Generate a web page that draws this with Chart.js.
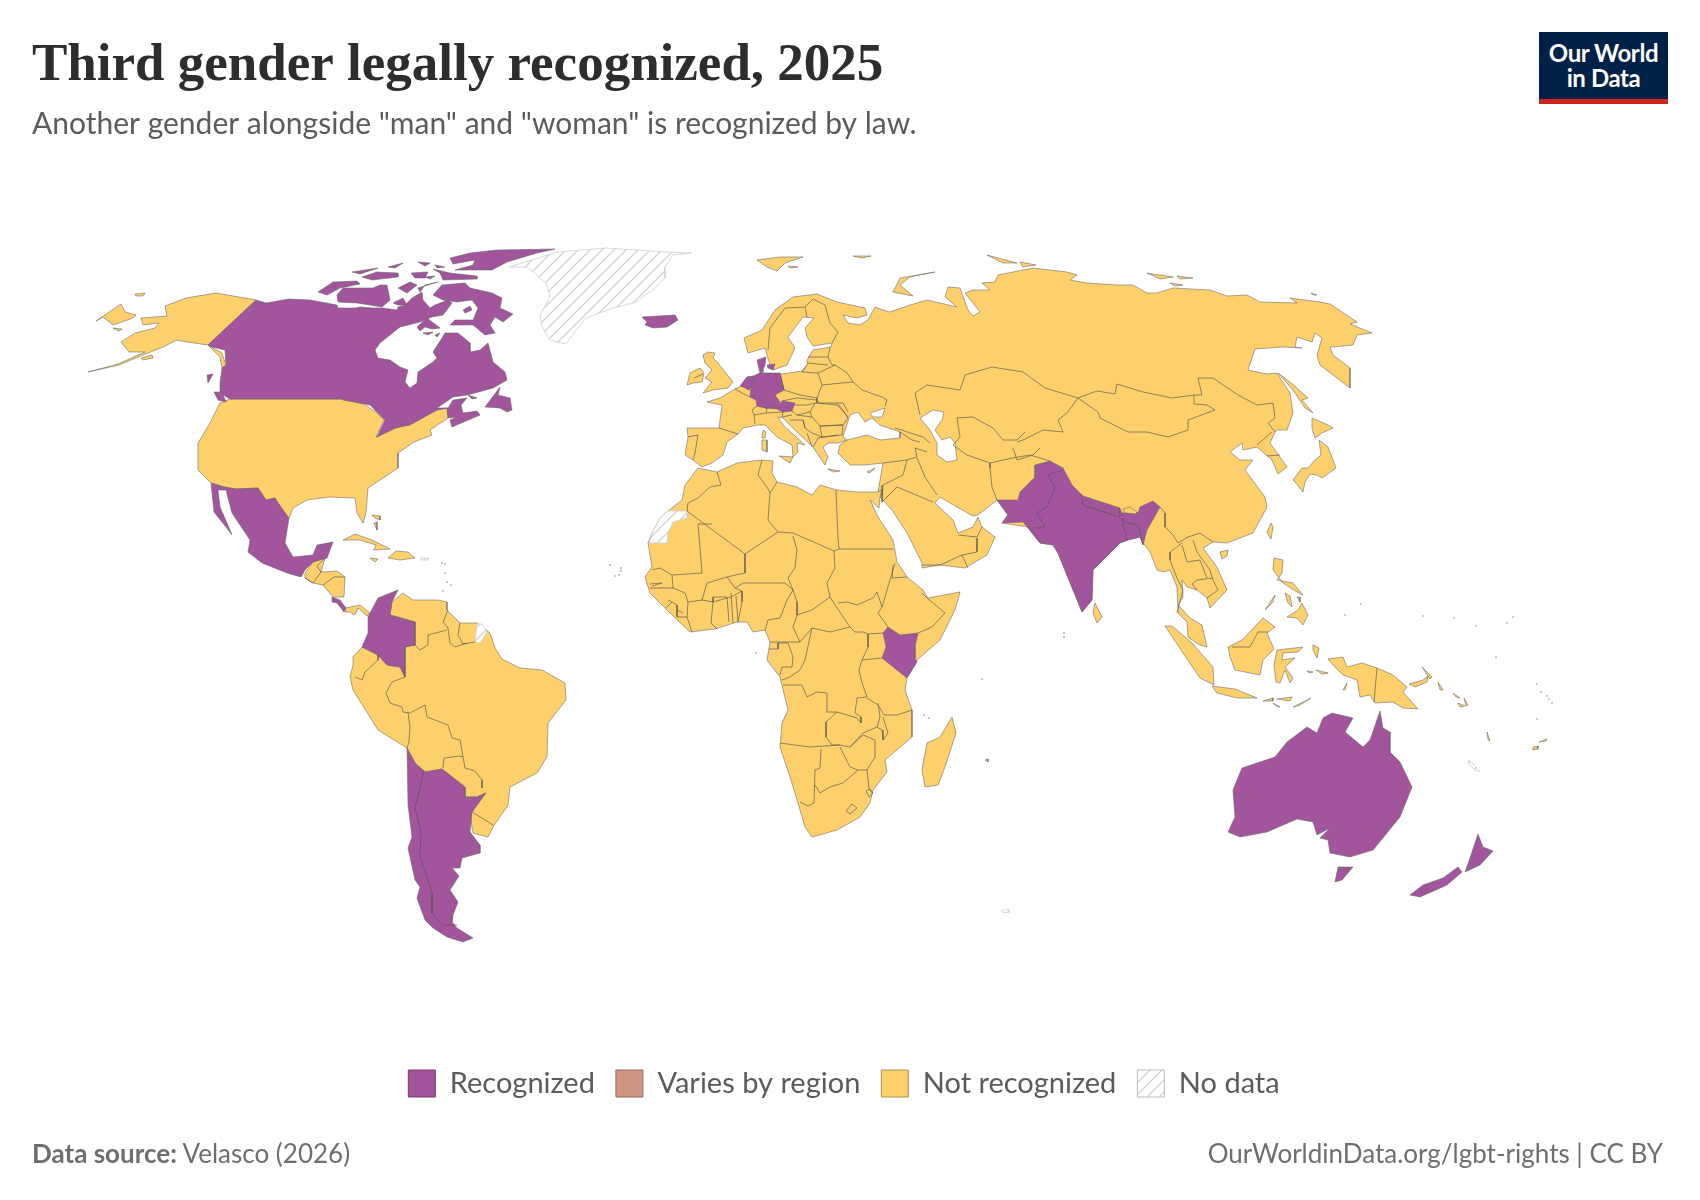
<!DOCTYPE html>
<html>
<head>
<meta charset="utf-8">
<title>Third gender legally recognized, 2025</title>
<script src="https://cdn.jsdelivr.net/npm/chart.js@4"></script>
<style>
  body { margin: 0; background: #fff; font-family: Lato, sans-serif; }
  #wrap { position: relative; width: 1700px; height: 1200px; }
  #logo { position: absolute; left: 1539px; top: 32px; width: 129px; height: 72px; background: #002147; border-bottom: 5px solid #ce261e; box-sizing: border-box; color: #fff; font-weight: 700; font-size: 24px; line-height: 25px; text-align: center; padding-top: 8px; letter-spacing: -0.4px; }
  .foot { position: absolute; top: 1137px; font-size: 26px; color: #6e6e6e; line-height: 32px; white-space: nowrap; }
  #source { left: 32px; }
  #source b { font-weight: 700; }
  #url { right: 37px; }
</style>
</head>
<body>
<div id="wrap">
  <canvas id="map" width="1700" height="1200"></canvas>
  <div id="logo">Our World<br>in Data</div>
  <div class="foot" id="source"><b>Data source:</b> Velasco (2026)</div>
  <div class="foot" id="url">OurWorldinData.org/lgbt-rights | CC BY</div>
</div>
<script>
// legend categories and colours
var categories = ['Recognized', 'Varies by region', 'Not recognized', 'No data'];
var purple = '#a2559c', tan = '#cf9683', yellow = '#fed06b';

// outlines, x/y in map units (1700 x 1200 sheet)
var eurasia = [[702,467],[693,460],[685,455],[688,437],[687,428],[719,428],[722,405],[707,402],[720,398],[735,389],[740,387],[747,377],[754,376],[760,373],[782,374],[802,371],[807,365],[807,360],[813,350],[831,347],[832,343],[813,346],[807,337],[805,328],[814,318],[803,317],[797,325],[788,337],[795,348],[787,365],[773,370],[770,365],[765,348],[748,353],[744,338],[762,330],[775,310],[793,297],[817,294],[837,302],[865,308],[867,315],[857,318],[843,315],[848,323],[860,325],[868,320],[875,307],[883,310],[890,312],[910,305],[927,300],[957,307],[945,297],[948,287],[960,288],[968,310],[973,316],[980,312],[965,293],[973,290],[990,290],[982,283],[995,282],[998,275],[1033,268],[1067,272],[1077,275],[1070,280],[1087,283],[1117,285],[1133,285],[1147,293],[1157,293],[1173,288],[1210,290],[1227,296],[1247,295],[1260,302],[1297,303],[1290,298],[1320,302],[1330,304],[1357,322],[1350,324],[1372,333],[1357,335],[1353,345],[1333,347],[1330,347],[1333,355],[1350,368],[1350,388],[1320,365],[1317,355],[1322,338],[1315,333],[1312,342],[1297,337],[1295,347],[1302,348],[1283,347],[1255,349],[1248,370],[1267,374],[1277,373],[1290,393],[1293,413],[1287,430],[1277,430],[1275,432],[1270,443],[1287,467],[1278,474],[1272,460],[1257,447],[1243,450],[1242,443],[1230,452],[1240,460],[1253,460],[1245,470],[1265,497],[1267,507],[1253,533],[1227,543],[1213,542],[1203,548],[1217,567],[1227,590],[1210,608],[1207,598],[1197,590],[1187,587],[1182,580],[1183,597],[1178,605],[1190,618],[1202,625],[1207,647],[1200,645],[1188,637],[1187,622],[1178,613],[1177,587],[1170,570],[1163,572],[1157,570],[1150,552],[1143,543],[1140,537],[1128,540],[1120,543],[1093,570],[1092,600],[1082,612],[1058,553],[1053,545],[1040,543],[1028,527],[1002,523],[1008,515],[997,500],[978,515],[973,516],[957,507],[940,497],[935,503],[953,520],[958,533],[973,527],[978,517],[982,527],[995,537],[987,555],[965,568],[940,565],[922,568],[922,563],[907,533],[892,510],[880,497],[882,490],[878,492],[883,463],[865,465],[850,465],[838,453],[840,445],[847,440],[838,443],[828,443],[823,447],[828,457],[825,465],[813,447],[795,430],[783,418],[778,417],[783,425],[805,445],[797,443],[798,452],[793,457],[792,445],[777,437],[765,425],[758,425],[743,428],[738,434],[727,442],[723,455],[712,463]];
var africa = [[698,468],[717,472],[737,463],[762,460],[773,461],[772,473],[777,482],[797,487],[812,495],[820,485],[837,490],[857,492],[877,492],[882,490],[880,497],[879,508],[870,500],[878,517],[893,540],[897,562],[907,577],[923,590],[928,598],[960,592],[955,610],[940,640],[917,660],[907,678],[905,690],[912,710],[912,737],[885,760],[887,772],[873,790],[870,803],[860,817],[837,830],[812,837],[805,827],[798,803],[790,777],[780,747],[782,723],[788,710],[780,677],[767,660],[770,642],[765,630],[753,632],[747,622],[737,622],[715,629],[690,632],[675,618],[667,610],[650,593],[645,577],[652,567],[648,543],[652,533],[660,518],[668,511],[682,500],[685,485]];
var madagascar = [[952,717],[956,733],[945,767],[938,785],[925,787],[922,770],[927,743],[940,737]];
var alaska = [[256,300],[216,293],[186,298],[165,306],[167,316],[141,318],[143,325],[159,323],[155,328],[135,333],[121,342],[129,352],[145,352],[118,364],[88,372],[119,365],[143,355],[163,347],[177,340],[187,342],[208,345],[222,353],[226,365],[222,368],[220,357],[208,345]];
var chukotkaTip = [[96,321],[121,304],[125,312],[136,315],[133,318],[113,325],[103,317]];
var stLawrence = [[135,294],[145,293],[143,296],[136,296]];
var nunivak = [[113,328],[122,329],[119,331]];
var kodiak = [[141,358],[152,355],[153,358],[143,360]];
var usa = [[230,399],[343,399],[364,404],[376,412],[384,420],[376,437],[396,428],[418,420],[437,410],[447,408],[448,418],[430,430],[432,435],[414,442],[398,453],[398,468],[368,488],[366,513],[363,523],[357,513],[355,498],[329,497],[307,500],[293,508],[289,518],[279,510],[275,498],[266,500],[258,488],[236,489],[224,487],[211,483],[198,470],[198,443],[210,423],[220,403]];
var centralAmerica = [[305,573],[313,562],[325,558],[321,572],[337,571],[345,577],[344,597],[333,597],[323,585],[313,583],[305,578]];
var panama = [[345,608],[360,605],[370,613],[367,616],[358,608],[355,615],[350,612],[345,612]];
var southAmerica = [[392,602],[403,593],[413,600],[438,600],[447,602],[447,610],[460,623],[477,623],[490,633],[495,648],[502,659],[520,668],[542,670],[565,683],[566,700],[548,723],[547,757],[537,773],[510,787],[508,805],[493,827],[488,837],[473,833],[470,815],[472,812],[485,793],[477,797],[465,797],[465,787],[442,769],[425,772],[415,763],[407,748],[378,730],[353,690],[350,677],[353,665],[353,657],[362,647],[378,655],[387,665],[400,667],[405,677],[405,647],[415,645],[415,622],[390,615]];
var cuba = [[343,540],[355,534],[372,540],[390,549],[374,550],[376,545],[360,540]];
var hispaniola = [[388,558],[396,551],[408,552],[415,558],[400,560]];
var jamaica = [[370,558],[378,559],[375,562]];
var bahamas1 = [[372,515],[380,516],[380,520],[375,518]];
var bahamas2 = [[374,523],[377,522],[377,530]];
var uk = [[703,355],[708,352],[715,353],[713,358],[718,363],[733,382],[728,388],[713,390],[703,393],[712,382],[705,378],[712,370],[705,363]];
var ireland = [[687,385],[690,373],[700,368],[704,373],[702,382],[693,383]];
var sicily = [[779,456],[793,457],[790,463]];
var sardinia = [[762,440],[767,440],[767,452],[762,450]];
var corsica = [[763,430],[766,432],[765,438],[762,438]];
var crete = [[828,469],[840,471],[833,472]];
var cyprus = [[867,472],[875,468],[870,473]];
var svalbard = [[757,260],[780,257],[803,257],[785,263],[777,271],[767,267]];
var nordaustland = [[788,266],[798,267],[790,268]];
var franzJosef = [[853,256],[871,256],[862,258]];
var novayaZemlya = [[935,272],[900,278],[893,292],[913,296],[900,285],[910,277]];
var severnaya1 = [[987,255],[1017,263],[1003,263]];
var severnaya2 = [[1020,262],[1036,265],[1023,267]];
var newSiberian1 = [[1147,273],[1173,277],[1160,279]];
var newSiberian2 = [[1177,276],[1193,278],[1180,279]];
var newSiberian3 = [[1170,283],[1183,285],[1175,286]];
var wrangel = [[1311,293],[1317,295],[1313,295]];
var sakhalin = [[1278,373],[1290,382],[1308,398],[1302,400],[1313,413],[1305,408],[1293,390]];
var hokkaido = [[1312,418],[1328,425],[1333,428],[1322,433],[1315,438],[1312,428]];
var honshu = [[1319,440],[1328,447],[1336,468],[1322,478],[1317,475],[1310,474],[1305,482],[1303,492],[1295,482],[1293,480],[1302,468],[1308,468],[1315,460],[1321,455]];
var taiwan = [[1271,523],[1273,527],[1271,539],[1267,532]];
var hainan = [[1220,552],[1228,550],[1227,556],[1222,559]];
var sriLanka = [[1095,603],[1102,617],[1097,623],[1093,613]];
var sumatra = [[1165,626],[1172,626],[1192,643],[1213,667],[1214,685],[1200,678],[1183,653]];
var java = [[1212,686],[1235,689],[1257,698],[1237,698],[1217,693]];
var lesserSunda1 = [[1263,701],[1273,698],[1273,701]];
var lesserSunda2 = [[1277,699],[1292,697],[1290,701]];
var sumba = [[1273,703],[1280,707],[1276,706]];
var timor = [[1293,707],[1311,698],[1300,705]];
var borneo = [[1228,647],[1242,640],[1263,618],[1275,627],[1267,633],[1274,649],[1263,660],[1260,675],[1235,670],[1230,657]];
var sulawesi = [[1277,650],[1303,647],[1298,652],[1283,653],[1282,660],[1295,658],[1285,667],[1293,678],[1290,683],[1285,670],[1280,683],[1276,682],[1274,665]];
var halmahera = [[1313,645],[1319,648],[1317,658],[1313,650]];
var buru = [[1307,671],[1313,672],[1309,673]];
var seram = [[1316,670],[1328,673],[1322,674]];
var yamdena = [[1343,690],[1347,683],[1345,690]];
var newGuinea = [[1328,659],[1343,657],[1347,667],[1362,663],[1377,668],[1393,675],[1407,687],[1403,692],[1418,709],[1403,708],[1393,702],[1375,703],[1370,695],[1360,697],[1357,680],[1343,675],[1335,667]];
var newBritain = [[1409,684],[1423,680],[1428,676],[1427,682],[1415,687]];
var newIreland = [[1422,667],[1432,677],[1430,679]];
var solomon1 = [[1438,682],[1443,690],[1440,690]];
var solomon2 = [[1453,693],[1460,698],[1456,697]];
var solomon3 = [[1464,698],[1468,705],[1466,706]];
var solomon4 = [[1458,703],[1465,706],[1460,707]];
var vanuatu = [[1487,732],[1490,741],[1488,740]];
var fiji1 = [[1533,747],[1538,746],[1538,749],[1533,750]];
var fiji2 = [[1539,742],[1547,739],[1546,741]];
var mauritius = [[985,760],[988,759],[988,762]];
var luzon = [[1274,558],[1283,560],[1282,573],[1277,580],[1293,583],[1303,595],[1297,592],[1283,583],[1273,570]];
var palawan = [[1265,610],[1275,595],[1273,602]];
var mindanao = [[1287,617],[1298,610],[1302,603],[1308,615],[1303,625],[1297,618]];
var visayas = [[1285,593],[1290,596],[1292,607],[1288,603]];
var samar = [[1297,597],[1300,597],[1300,602]];

var canada = [[256,300],[266,303],[289,299],[310,300],[337,305],[338,308],[355,308],[360,307],[373,308],[383,308],[397,310],[398,307],[405,305],[412,298],[422,292],[423,300],[430,308],[435,305],[448,300],[452,303],[443,315],[432,317],[420,322],[400,327],[380,343],[375,350],[378,358],[390,360],[400,367],[408,370],[405,382],[410,388],[417,383],[418,372],[433,362],[437,358],[433,352],[442,338],[445,333],[458,333],[470,343],[470,352],[480,350],[488,343],[493,362],[505,372],[507,380],[493,388],[475,393],[467,395],[453,397],[437,408],[448,408],[453,400],[467,398],[461,405],[463,413],[477,411],[480,415],[452,427],[450,420],[457,417],[448,418],[447,408],[437,410],[428,415],[410,425],[395,428],[377,437],[385,420],[370,405],[343,400],[343,399],[230,399],[220,393],[220,383],[222,368],[226,365],[225,350],[212,347],[208,345]];
var anticosti = [[468,395],[477,398],[472,399]];
var newfoundland = [[485,407],[500,387],[498,395],[510,398],[512,410],[507,412],[500,408]];
var vancouverIs = [[214,392],[222,392],[226,402],[218,400]];
var haidaGwaii = [[207,375],[213,374],[208,383]];
var baffin = [[433,295],[442,285],[465,283],[470,288],[492,293],[502,298],[500,308],[513,314],[503,322],[495,317],[490,325],[495,333],[485,335],[473,325],[450,325],[455,320],[473,320],[478,308],[472,300],[457,302],[443,300]];
var princeCharles = [[463,310],[470,306],[472,310],[465,313]];
var banks = [[318,292],[333,282],[357,281],[360,284],[340,288],[327,295]];
var victoriaIs = [[337,295],[343,288],[373,288],[380,285],[387,285],[390,300],[382,307],[357,303],[338,302]];
var kingWilliam = [[393,303],[403,298],[407,305],[398,305]];
var princeOfWales = [[398,288],[410,282],[417,285],[407,293]];
var somerset = [[418,288],[438,282],[425,285],[420,292]];
var southampton = [[417,327],[427,318],[440,328],[432,329],[425,327],[420,331]];
var coats = [[423,333],[433,332],[428,335]];
var mansel = [[435,335],[440,333],[437,337]];
var ellesmere = [[450,258],[470,253],[497,250],[555,249],[537,253],[507,262],[492,270],[455,270],[473,265],[475,260],[453,264]];
var devon = [[433,269],[450,273],[477,276],[477,279],[443,280],[440,273]];
var melville = [[362,277],[377,272],[398,273],[398,277],[372,280]];
var princePatrick = [[352,272],[378,268],[360,274]];
var amundRingnes = [[388,267],[403,263],[395,268]];
var axelIslet = [[418,262],[430,263],[425,266]];
var cornwallis = [[435,265],[445,267],[437,268]];
var bathurst = [[411,273],[428,272],[425,278],[415,278]];
var northKent = [[425,277],[435,276],[430,279]];
var iceland = [[642,317],[675,315],[678,320],[667,327],[653,328],[645,325],[647,322]];
var mexico = [[211,483],[224,487],[236,489],[258,488],[266,500],[275,498],[281,507],[289,518],[285,543],[293,557],[313,555],[317,545],[333,542],[327,558],[313,562],[305,570],[301,577],[287,573],[262,563],[248,552],[250,540],[232,513],[226,490],[218,490],[220,507],[230,530],[232,535],[226,527],[214,512]];
var costaRica = [[332,597],[340,600],[346,608],[344,612],[337,603],[332,602]];
var colombia = [[368,617],[378,598],[398,590],[392,602],[390,615],[415,622],[415,645],[405,647],[405,677],[400,667],[387,665],[378,655],[362,647],[368,633]];
var southernCone = [[407,748],[415,763],[425,772],[442,769],[465,787],[465,797],[477,797],[486,793],[472,812],[470,832],[480,845],[480,853],[462,858],[460,868],[452,868],[459,876],[450,890],[458,902],[453,915],[452,922],[457,928],[473,938],[463,942],[447,937],[433,928],[425,920],[417,898],[420,887],[415,880],[408,848],[412,837],[408,805]];
var germany = [[754,376],[760,373],[780,373],[784,390],[775,395],[780,402],[778,406],[765,408],[757,406],[756,400],[750,397],[751,387]];
var netherlands = [[740,386],[747,377],[754,376],[751,387],[749,390],[743,387]];
var denmark = [[760,373],[757,360],[766,357],[765,365],[763,370],[763,372]];
var zealand = [[767,365],[775,364],[773,370],[768,368]];
var austria = [[765,408],[778,406],[782,401],[795,403],[792,411],[783,412],[777,409]];
var southAsia = [[997,500],[1008,515],[1002,523],[1023,522],[1040,543],[1053,545],[1058,553],[1082,612],[1092,600],[1093,570],[1120,543],[1128,540],[1140,537],[1143,545],[1147,530],[1160,507],[1153,501],[1140,507],[1138,513],[1122,513],[1120,508],[1083,496],[1072,485],[1063,468],[1050,461],[1035,465],[1035,477],[1020,492],[1018,500]];
var kenya = [[883,633],[888,627],[900,635],[918,633],[915,647],[915,658],[917,662],[907,678],[882,658],[886,647]];
var australia = [[1332,713],[1353,718],[1345,732],[1363,747],[1370,740],[1380,711],[1383,728],[1390,732],[1390,752],[1400,762],[1412,787],[1400,817],[1373,850],[1350,857],[1330,853],[1328,840],[1320,838],[1330,828],[1317,835],[1313,822],[1297,819],[1267,832],[1240,837],[1228,832],[1235,817],[1233,790],[1242,768],[1275,757],[1287,742],[1307,727],[1317,733],[1323,718]];
var tasmania = [[1338,867],[1353,867],[1342,880],[1335,882]];
var nzNorth = [[1478,834],[1483,847],[1493,851],[1480,865],[1465,872],[1470,858]];
var nzSouth = [[1458,867],[1462,872],[1447,885],[1420,897],[1410,895],[1423,885],[1443,878]];
var bhutan = [[1123,509],[1130,507],[1137,512],[1137,514],[1125,513]];

var greenland = [[509,267],[558,252],[606,248],[665,252],[692,253],[673,255],[665,267],[665,278],[653,290],[645,295],[637,302],[613,308],[586,318],[574,333],[566,344],[550,340],[542,327],[540,315],[550,297],[546,283],[527,267]];
var westernSahara = [[649,543],[667,543],[668,533],[673,522],[687,518],[687,511],[668,511],[660,518],[652,533]];
var frenchGuiana = [[477,624],[482,624],[487,632],[480,643],[475,642]];
var newCaledonia = [[1469,760],[1480,771],[1476,771],[1468,763]];
var puertoRico = [[421,558],[428,558],[428,560],[421,560]];
var kerguelen = [[1001,911],[1008,909],[1010,912],[1003,913]];

var blackSea = [[843,437],[850,415],[858,412],[865,422],[872,418],[880,425],[900,432],[900,438],[880,440],[867,435],[847,440]];
var azov = [[870,413],[885,408],[882,417],[873,417]];
var caspian = [[920,418],[933,410],[944,412],[942,420],[935,430],[942,440],[950,437],[955,443],[957,460],[947,462],[937,455],[937,443],[930,430]];

var notRecognized = [eurasia, africa, madagascar, alaska, chukotkaTip, stLawrence, nunivak, kodiak, usa, centralAmerica, panama, southAmerica, cuba, hispaniola, jamaica, bahamas1, bahamas2, uk, ireland, sicily, sardinia, corsica, crete, cyprus, svalbard, nordaustland, franzJosef, novayaZemlya, severnaya1, severnaya2, newSiberian1, newSiberian2, newSiberian3, wrangel, sakhalin, hokkaido, honshu, taiwan, hainan, sriLanka, sumatra, java, lesserSunda1, lesserSunda2, sumba, timor, borneo, sulawesi, halmahera, buru, seram, yamdena, newGuinea, newBritain, newIreland, solomon1, solomon2, solomon3, solomon4, vanuatu, fiji1, fiji2, mauritius, luzon, palawan, mindanao, visayas, samar];
var seas = [blackSea, azov, caspian];
var recognized = [canada, anticosti, newfoundland, vancouverIs, haidaGwaii, baffin, princeCharles, banks, victoriaIs, kingWilliam, princeOfWales, somerset, southampton, coats, mansel, ellesmere, devon, melville, princePatrick, amundRingnes, axelIslet, cornwallis, bathurst, northKent, iceland, mexico, costaRica, colombia, southernCone, germany, netherlands, denmark, zealand, austria, southAsia, kenya, australia, tasmania, nzNorth, nzSouth];
var noData = [greenland, westernSahara, frenchGuiana, newCaledonia, puertoRico, kerguelen];

// country borders inside the land masses
var borders = [
  // Americas
  [[424,770],[420,787],[415,807],[421,833],[420,857],[432,893],[432,913],[442,925],[457,925]],
  [[378,655],[378,660],[365,672],[362,680],[355,677]],
  [[405,677],[392,682],[386,693],[390,703],[402,707],[403,712],[410,713],[425,705],[427,717],[448,725],[452,738],[460,740],[463,757],[465,768],[475,771],[482,780],[482,788]],
  [[408,713],[410,727],[409,742],[407,748]],
  [[443,768],[444,758],[460,756],[463,757]],
  [[472,812],[493,825]],
  [[448,610],[443,622],[448,628],[450,643],[455,647],[467,643]],
  [[415,645],[420,650],[428,645],[428,635],[447,630]],
  [[460,623],[458,635],[463,644],[475,642]],
  [[305,578],[313,583],[321,572]],
  [[321,572],[317,566],[325,558]],
  [[323,585],[334,577],[345,577]],
  // Europe
  [[719,428],[738,434]],
  [[688,437],[698,435],[695,453],[693,460]],
  [[735,389],[742,393],[750,397]],
  [[757,406],[752,410],[754,415],[755,424]],
  [[754,415],[766,413],[767,408]],
  [[766,413],[783,412],[782,417]],
  [[782,417],[792,415]],
  [[780,373],[784,390],[800,395],[817,398],[822,385],[818,373],[802,372]],
  [[818,373],[835,365],[847,373],[853,382],[842,383],[822,385]],
  [[853,382],[862,390],[882,397],[887,400],[885,406]],
  [[817,398],[817,403],[837,405],[848,417]],
  [[782,401],[797,398],[817,400]],
  [[795,405],[807,405],[815,403]],
  [[792,411],[797,415],[810,412],[815,403]],
  [[815,403],[837,403],[843,410],[848,418],[843,425],[820,426],[812,417],[810,412]],
  [[837,403],[843,403],[848,412]],
  [[820,426],[843,425],[842,435],[822,437],[820,426]],
  [[797,415],[812,417]],
  [[790,420],[803,420],[805,428]],
  [[803,420],[805,428],[812,433],[822,437]],
  [[807,433],[812,447]],
  [[813,447],[818,438],[838,435]],
  [[808,357],[828,357]],
  [[807,363],[828,365]],
  [[830,347],[828,357],[832,365],[835,365]],
  [[802,372],[807,365]],
  [[825,305],[830,323],[838,332],[832,343]],
  [[768,350],[770,328],[785,308],[805,307],[807,317]],
  [[805,307],[813,299],[825,305]],
  [[883,463],[907,460],[917,457],[915,448],[927,452]],
  [[895,428],[923,437],[930,443]],
  [[900,432],[912,440],[920,442]],
  // Middle East and Central Asia
  [[917,458],[925,477],[937,495]],
  [[907,460],[903,475],[883,485]],
  [[897,487],[933,502]],
  [[883,485],[882,502],[897,487]],
  [[922,565],[940,565],[962,555],[968,568]],
  [[977,538],[977,552],[962,555]],
  [[958,535],[977,537],[982,527]],
  [[990,468],[992,487],[997,500]],
  [[953,445],[967,455],[990,463],[990,468]],
  [[915,393],[927,385],[960,390],[965,375],[992,367],[1023,372],[1045,388],[1078,398]],
  [[920,415],[915,393]],
  [[1078,398],[1067,413],[1058,420],[1063,432],[1043,430],[1023,440],[1017,442]],
  [[957,418],[960,437],[953,445]],
  [[957,418],[973,417],[993,428],[1003,440],[1017,440],[1025,432]],
  [[990,463],[1012,458],[1030,455],[1050,461]],
  [[1013,448],[1017,460],[1033,455],[1040,448]],
  // China, Mongolia, Korea, South East Asia
  [[1078,398],[1098,412],[1100,418],[1128,432],[1147,432],[1168,437],[1188,430],[1188,420],[1215,410],[1207,405],[1194,404],[1194,395],[1172,398],[1143,392],[1117,384],[1115,394],[1097,391],[1078,398]],
  [[1194,395],[1202,395],[1198,378],[1213,378],[1238,395],[1257,405],[1273,403],[1275,418],[1268,423],[1275,432]],
  [[1272,432],[1257,445]],
  [[1267,456],[1280,455]],
  [[1160,507],[1165,513],[1165,527],[1173,535],[1178,543]],
  [[1182,543],[1170,552],[1170,560],[1177,578],[1183,590],[1177,613]],
  [[1178,543],[1188,537],[1200,533],[1213,542]],
  [[1193,540],[1197,552],[1210,570],[1213,580],[1218,590],[1207,598]],
  [[1182,545],[1187,562],[1200,560],[1207,578]],
  [[1197,580],[1213,578]],
  [[1197,580],[1192,584],[1197,590]],
  // South Asia
  [[1048,475],[1063,470]],
  [[1048,475],[1055,488],[1047,507],[1037,513],[1045,527],[1033,528]],
  [[1082,498],[1083,505],[1120,517],[1119,508]],
  [[1122,518],[1127,540]],
  [[1125,522],[1138,525],[1143,545]],
  [[1122,518],[1125,522]],
  // Africa
  [[687,511],[688,503],[698,498],[710,487],[721,485],[717,472]],
  [[687,511],[745,554],[778,532]],
  [[762,460],[758,475],[767,487],[770,493],[777,482]],
  [[770,493],[768,520],[778,532]],
  [[836,490],[838,539],[839,549]],
  [[778,532],[793,533],[834,551],[839,549],[893,549]],
  [[793,536],[797,550],[795,568],[788,578],[793,590],[797,602],[797,615],[793,627],[800,642]],
  [[745,554],[745,573],[727,577],[735,588],[743,583],[755,583],[785,583],[793,590]],
  [[698,524],[701,560],[702,573],[672,575],[660,568],[652,570]],
  [[698,524],[712,524]],
  [[672,575],[673,588],[685,593],[688,602],[702,600],[707,583],[727,577]],
  [[702,600],[713,602],[731,597],[742,591],[735,588]],
  [[713,597],[727,597],[729,622]],
  [[713,597],[713,602],[711,623],[717,629]],
  [[731,593],[733,623]],
  [[736,596],[738,622]],
  [[742,591],[742,602],[738,622]],
  [[650,588],[663,588],[673,588]],
  [[650,584],[662,583],[652,586]],
  [[666,608],[672,602],[677,605],[677,617],[687,617]],
  [[668,600],[672,602]],
  [[688,602],[687,617],[692,632]],
  [[683,613],[677,610]],
  [[765,630],[768,620],[780,618],[787,600],[793,590]],
  [[770,642],[800,642]],
  [[797,615],[812,610],[830,597],[837,608],[850,627]],
  [[834,551],[835,568],[827,583],[830,597]],
  [[800,642],[812,628],[830,632],[850,627],[855,632],[863,632],[868,634],[883,633]],
  [[838,603],[847,602],[857,605],[873,598],[877,592],[882,607],[895,563]],
  [[882,607],[878,613],[888,627]],
  [[893,565],[892,578],[907,577]],
  [[922,593],[927,598],[945,613],[932,627],[918,633]],
  [[868,634],[868,647],[862,660],[859,670],[862,683],[867,697],[857,698],[855,713],[861,717],[861,723],[857,718],[837,712],[827,712],[827,693],[817,692],[807,697],[802,685],[783,685]],
  [[812,628],[805,660],[800,670],[790,677],[782,680]],
  [[778,643],[778,649],[769,649]],
  [[778,643],[788,643],[793,657],[792,667],[782,667],[780,675]],
  [[862,660],[882,658]],
  [[867,698],[878,705],[884,715],[897,715],[912,710]],
  [[878,703],[880,717],[877,727],[882,730],[883,740],[888,733],[883,717]],
  [[837,712],[826,722],[826,737],[832,745],[840,745],[850,747],[863,733],[877,727]],
  [[780,743],[810,747],[840,745]],
  [[821,749],[820,768],[815,770],[814,803],[808,806],[800,802]],
  [[840,747],[850,767],[858,770],[843,783],[830,787],[820,793],[815,785]],
  [[858,770],[867,770],[875,757],[875,740],[863,735],[850,747]],
  [[867,770],[869,788],[872,793]],
  [[846,811],[852,804],[857,808],[850,814],[846,811]],
  [[866,791],[870,789],[873,793],[869,797],[866,791]],
  // Pacific and Atlantic islands
  [[1232,647],[1250,647],[1258,632],[1268,632]],
  [[1377,668],[1374,702]],
  [[694,378],[703,374]]
];

// tiny island groups too small for an outline
var dotX = [442,445,445,447,451,443,610,621,621,615,619,1064,1064,1361,1345,1423,1454,1476,1507,1513,1496,1537,1541,1547,1549,1552,1537,756,982,924,929,4,8,12,0];
var dotY = [563,564,573,582,585,591,565,568,571,576,575,633,637,604,615,616,618,626,623,617,657,684,692,696,699,703,719,653,679,715,718,539,541,545,643];
// Hawaii sits left of the plot area, where area fills get clipped
var hawaiiX = [21];
var hawaiiY = [552];

function toPoints(shape) {
  var pts = shape.map(function (p) { return { x: p[0], y: p[1] }; });
  pts.push(pts[0]);
  return pts;
}

var hatchCanvas = document.createElement('canvas');
hatchCanvas.width = 12;
hatchCanvas.height = 12;
var hc = hatchCanvas.getContext('2d');
hc.fillStyle = '#fff';
hc.fillRect(0, 0, 12, 12);
hc.strokeStyle = '#d5d5d5';
hc.lineWidth = 1.4;
hc.beginPath();
hc.moveTo(-3, 15); hc.lineTo(15, -3);
hc.moveTo(-9, 9); hc.lineTo(9, -9);
hc.moveTo(3, 21); hc.lineTo(21, 3);
hc.stroke();
var hatch = hc.createPattern(hatchCanvas, 'repeat');

function areaSet(shape, fillColor, lineColor) {
  return {
    data: toPoints(shape), showLine: true, fill: 'shape', tension: 0,
    backgroundColor: fillColor, borderColor: lineColor, borderWidth: 0.8,
    pointRadius: 0, pointHoverRadius: 0, clip: false
  };
}

var coast = 'rgba(100,100,100,0.7)';
var painted = [];
notRecognized.forEach(function (s) { painted.push(areaSet(s, yellow, coast)); });
seas.forEach(function (s) { painted.push(areaSet(s, '#fff', coast)); });
recognized.forEach(function (s) { painted.push(areaSet(s, purple, coast)); });
painted.push(areaSet(bhutan, yellow, coast));
noData.forEach(function (s) { painted.push(areaSet(s, hatch, '#cfcfcf')); });
borders.forEach(function (b) {
  painted.push({
    data: b.map(function (p) { return { x: p[0], y: p[1] }; }),
    showLine: true, fill: false, tension: 0,
    borderColor: 'rgba(85,85,85,0.72)', borderWidth: 0.9,
    pointRadius: 0, pointHoverRadius: 0, clip: false
  });
});
painted.push({
  data: dotX.map(function (x, i) { return { x: x, y: dotY[i] }; }),
  showLine: false, pointRadius: 0.8, pointBackgroundColor: '#8a8a7a', pointBorderWidth: 0, clip: false
});
painted.push({
  data: hawaiiX.map(function (x, i) { return { x: x, y: hawaiiY[i] }; }),
  showLine: false, pointRadius: 3, pointBackgroundColor: yellow, pointBorderColor: coast, pointBorderWidth: 0.8, clip: false
});
// chart.js paints the first dataset last
painted.forEach(function (d, i) { d.order = -i; });

var swatches = [purple, tan, yellow, hatch];
var swatchEdges = ['#6e3f6a', '#8f6a5c', '#a98f4e', '#bdbdbd'];

var chart = new Chart(document.getElementById('map').getContext('2d'), {
  type: 'scatter',
  data: { datasets: painted },
  options: {
    responsive: false,
    animation: false,
    devicePixelRatio: 1,
    layout: { padding: { left: 32, right: 44, top: 0, bottom: 92 } },
    scales: {
      x: { type: 'linear', display: false, min: 0, max: 1700 },
      y: { type: 'linear', display: false, min: 0, max: 1200, reverse: true }
    },
    plugins: {
      tooltip: { enabled: false },
      title: {
        display: true, text: 'Third gender legally recognized, 2025', align: 'start',
        color: '#2d2d2d', font: { family: '"Liberation Serif", serif', weight: 'bold', size: 53 },
        padding: { top: 35, bottom: 8 }
      },
      subtitle: {
        display: true, text: 'Another gender alongside "man" and "woman" is recognized by law.', align: 'start',
        color: '#5b5b5b', font: { family: 'Lato', size: 30 },
        padding: { top: 0, bottom: 40 }
      },
      legend: {
        display: true, position: 'bottom', align: 'center', onClick: null,
        labels: {
          boxWidth: 27, boxHeight: 27, padding: 21, color: '#5b5b5b',
          font: { family: 'Lato', size: 29 },
          generateLabels: function () {
            return categories.map(function (name, i) {
              return { text: name, fillStyle: swatches[i], strokeStyle: swatchEdges[i], lineWidth: 1, fontColor: '#5b5b5b', hidden: false, datasetIndex: 0 };
            });
          }
        }
      }
    }
  }
});

// make map units line up with the sheet once the layout is known
var area = chart.chartArea;
chart.options.scales.x.min = area.left;
chart.options.scales.x.max = area.right;
chart.options.scales.y.min = area.top;
chart.options.scales.y.max = area.bottom;
chart.update('none');
</script>
</body>
</html>
